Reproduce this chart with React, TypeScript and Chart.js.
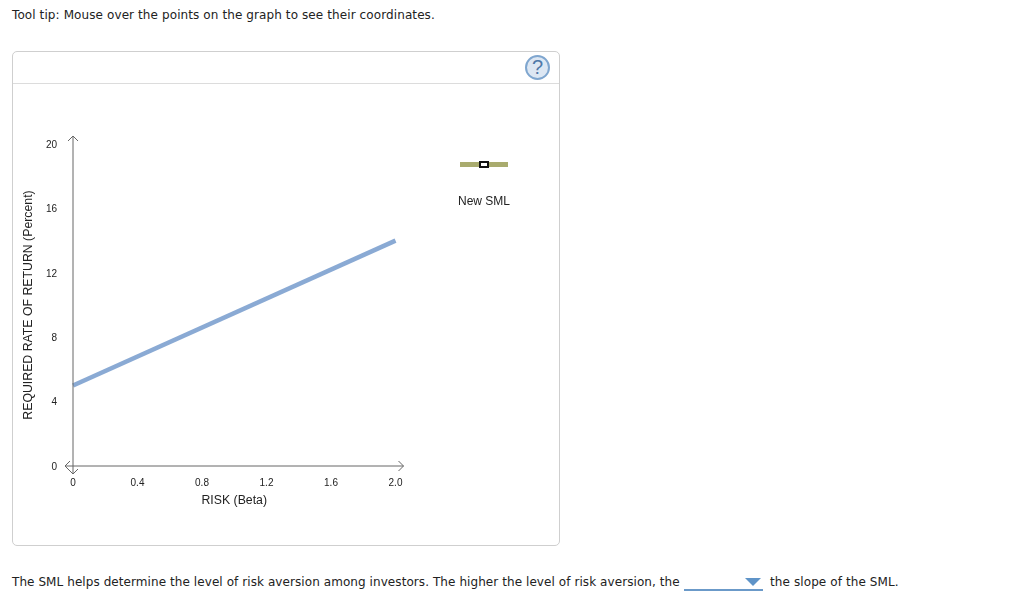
import React, { useEffect, useRef } from "react";
import { Chart, registerables } from "chart.js";

Chart.register(...registerables);

const betaValues = [0, 2];
const returnValues = [5, 14];
const xTicks = [0, 0.4, 0.8, 1.2, 1.6, 2.0];
const yTicks = [0, 4, 8, 12, 16, 20];
const xTitle = "RISK (Beta)";
const yTitle = "REQUIRED RATE OF RETURN (Percent)";
const legendLabel = "New SML";
const topText = "Tool tip: Mouse over the points on the graph to see their coordinates.";
const bottomBefore = "The SML helps determine the level of risk aversion among investors. The higher the level of risk aversion, the";
const bottomAfter = "the slope of the SML.";

const lineColor = "#8aaad4";
const legendColor = "#a9ab6e";
const axisColor = "#666666";
const bodyFont = "'DejaVu Sans', Verdana, sans-serif";
const chartFont = "'Liberation Sans', Arial, sans-serif";

const axisArrows = {
  id: "axisArrows",
  afterDraw(chart: any) {
    const { ctx, scales } = chart;
    const x0 = scales.x.getPixelForValue(0);
    const x1 = scales.x.getPixelForValue(2);
    const y0 = scales.y.getPixelForValue(0);
    const y1 = scales.y.getPixelForValue(20);
    const ext = 8;
    const head = 5;
    ctx.save();
    ctx.strokeStyle = axisColor;
    ctx.lineWidth = 1;
    ctx.beginPath();
    ctx.moveTo(x0 - ext, y0);
    ctx.lineTo(x1 + ext, y0);
    ctx.moveTo(x0, y0 + ext);
    ctx.lineTo(x0, y1 - ext);
    ctx.moveTo(x1 + ext - head, y0 - head);
    ctx.lineTo(x1 + ext, y0);
    ctx.lineTo(x1 + ext - head, y0 + head);
    ctx.moveTo(x0 - ext + head, y0 - head);
    ctx.lineTo(x0 - ext, y0);
    ctx.lineTo(x0 - ext + head, y0 + head);
    ctx.moveTo(x0 - head, y1 - ext + head);
    ctx.lineTo(x0, y1 - ext);
    ctx.lineTo(x0 + head, y1 - ext + head);
    ctx.moveTo(x0 - head, y0 + ext - head);
    ctx.lineTo(x0, y0 + ext);
    ctx.lineTo(x0 + head, y0 + ext - head);
    ctx.stroke();
    ctx.restore();
  },
};

export default function App() {
  const ref = useRef<HTMLCanvasElement>(null);
  useEffect(() => {
    const chart = new Chart(ref.current as HTMLCanvasElement, {
      type: "scatter",
      data: {
        datasets: [
          {
            label: legendLabel,
            data: betaValues.map((b, i) => ({ x: b, y: returnValues[i] })),
            showLine: true,
            borderColor: lineColor,
            backgroundColor: lineColor,
            borderWidth: 4.5,
            pointRadius: 0,
            clip: false,
          },
        ],
      },
      options: {
        animation: false,
        responsive: false,
        maintainAspectRatio: false,
        layout: { padding: { left: 8, right: 163.5, top: 60, bottom: 56.5 } },
        plugins: { legend: { display: false }, tooltip: { enabled: false } },
        scales: {
          x: {
            type: "linear",
            min: 0,
            max: 2,
            afterBuildTicks: (axis: any) => {
              axis.ticks = xTicks.map((value) => ({ value }));
            },
            afterFit: (axis: any) => {
              axis.height = 41.5;
            },
            grid: { display: false, drawTicks: false },
            border: { display: false },
            ticks: {
              padding: 11,
              maxRotation: 0,
              autoSkip: false,
              color: "#222",
              font: { family: chartFont, size: 10 },
              callback: (v: any) => (v === 0 ? "0" : v === 2 ? "2.0" : String(v)),
            },
            title: {
              display: true,
              text: xTitle,
              color: "#222",
              font: { family: chartFont, size: 12.3 },
              padding: { top: 0, bottom: 0 },
            },
          },
          y: {
            type: "linear",
            min: 0,
            max: 20,
            afterBuildTicks: (axis: any) => {
              axis.ticks = yTicks.map((value) => ({ value }));
            },
            afterFit: (axis: any) => {
              axis.width = 52;
            },
            grid: { display: false, drawTicks: false },
            border: { display: false },
            ticks: {
              padding: 16,
              labelOffset: 1,
              autoSkip: false,
              color: "#222",
              font: { family: chartFont, size: 10 },
            },
            title: {
              display: true,
              text: yTitle,
              color: "#222",
              font: { family: chartFont, size: 12.3 },
              padding: { top: 0, bottom: 0 },
            },
          },
        },
      },
      plugins: [axisArrows],
    });
    return () => chart.destroy();
  }, []);

  return (
    <div style={{ position: "absolute", left: 0, top: 0, width: 1024, height: 600, fontFamily: bodyFont, color: "#222" }}>
      <div style={{ position: "absolute", left: 12, top: 8, fontSize: 12, letterSpacing: 0.1, whiteSpace: "nowrap" }}>{topText}</div>
      <div style={{ position: "absolute", left: 12, top: 51, width: 546, height: 493, border: "1px solid #cfcfcf", borderRadius: 5 }}>
        <div style={{ position: "absolute", left: 0, right: 0, top: 31, height: 1, background: "#dcdcdc" }} />
      </div>
      <canvas ref={ref} width={546} height={480} style={{ position: "absolute", left: 13, top: 84 }} />
      <div style={{ position: "absolute", left: 460, top: 162, width: 48, height: 5, background: legendColor }} />
      <div style={{ position: "absolute", left: 479, top: 161, width: 6, height: 3, border: "2px solid #111", background: "#fff" }} />
      <div style={{ position: "absolute", left: 434, width: 100, top: 194, textAlign: "center", fontFamily: chartFont, fontSize: 12 }}>{legendLabel}</div>
      <div style={{ position: "absolute", left: 525, top: 55, width: 21, height: 21, borderRadius: "50%", border: "2px solid #7fa6cf", background: "#dde7f3", color: "#4f78a8", textAlign: "center", fontFamily: chartFont, fontSize: 20, lineHeight: "21px" }}>?</div>
      <div style={{ position: "absolute", left: 12, top: 575, fontSize: 12, letterSpacing: 0.075, whiteSpace: "nowrap" }}>{bottomBefore}</div>
      <div style={{ position: "absolute", left: 684, top: 589, width: 79, height: 2, background: "#6b9ac9" }} />
      <div style={{ position: "absolute", left: 745, top: 578, width: 0, height: 0, borderLeft: "8px solid transparent", borderRight: "8px solid transparent", borderTop: "8px solid #5f94c8" }} />
      <div style={{ position: "absolute", left: 770, top: 575, fontSize: 12, letterSpacing: 0.1, whiteSpace: "nowrap" }}>{bottomAfter}</div>
    </div>
  );
}
